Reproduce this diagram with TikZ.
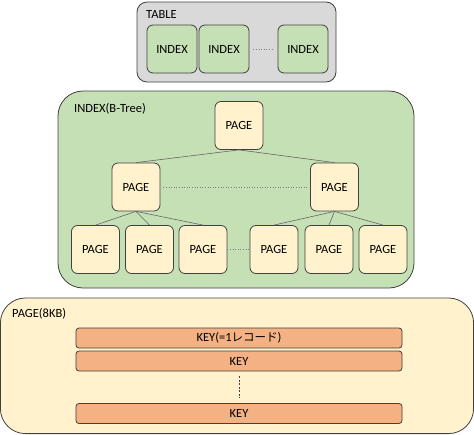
\documentclass[tikz,border=0pt]{standalone}
\usepackage{fontspec}
\setmainfont{Carlito}
\newfontfamily\jpfont{Noto Sans CJK JP}
\definecolor{tablegray}{HTML}{D9D9D9}
\definecolor{idxgreen}{HTML}{C5E0B4}
\definecolor{pageyellow}{HTML}{FFF2CC}
\definecolor{keyorange}{HTML}{F4B183}
\definecolor{boxline}{HTML}{404040}
\tikzset{
	container/.style={draw=boxline, line width=0.8pt, rounded corners=#1, inner sep=0pt},
	idxbox/.style={draw=boxline, fill=idxgreen, line width=0.8pt, rounded corners=6pt,
		minimum width=50pt, minimum height=48pt, font=\fontsize{12.5}{14}\selectfont},
	pagebox/.style={draw=boxline, fill=pageyellow, line width=0.8pt, rounded corners=6pt,
		minimum width=48pt, minimum height=48pt, font=\fontsize{12.5}{14}\selectfont},
	keybar/.style={draw=boxline, fill=keyorange, line width=0.8pt, rounded corners=3pt,
		minimum width=326pt, minimum height=20pt, font=\fontsize{12.5}{14}\selectfont},
	title/.style={anchor=west, inner sep=0pt, font=\fontsize{12.5}{14}\selectfont},
	link/.style={draw=gray!80!black, line width=0.6pt},
	gap/.style={draw=gray, line width=0.6pt, dotted}
}
\begin{document}
\begin{tikzpicture}[x=1pt, y=-1pt]
	\useasboundingbox (0,0) rectangle (474,434);
	% TABLE
	\draw[container=10pt, fill=tablegray] (137,2) rectangle (336,82);
	\node[title] (tabletitle) at (146,14) {TABLE};
	\node[idxbox] (idx1) at (172,49) {INDEX};
	\node[idxbox] (idx2) at (224,49) {INDEX};
	\node[idxbox] (idxn) at (303,49) {INDEX};
	\draw[gap, shorten <=4pt, shorten >=4pt] (idx2) -- (idxn);
	% INDEX(B-Tree)
	\draw[container=25pt, fill=idxgreen] (58,91) rectangle (414,288);
	\node[title] (treetitle) at (74,109) {INDEX(B-Tree)};
	\node[pagebox] (root) at (239,125.5) {PAGE};
	\node[pagebox] (midL) at (136,187) {PAGE};
	\node[pagebox] (midR) at (334.5,187) {PAGE};
	\node[pagebox] (leaf1) at (95.5,249.5) {PAGE};
	\node[pagebox] (leaf2) at (149.5,249.5) {PAGE};
	\node[pagebox] (leaf3) at (203,249.5) {PAGE};
	\node[pagebox] (leaf4) at (274,249.5) {PAGE};
	\node[pagebox] (leaf5) at (329,249.5) {PAGE};
	\node[pagebox] (leaf6) at (383,249.5) {PAGE};
	\draw[link] (root.south) -- (midL.north);
	\draw[link] (root.south) -- (midR.north);
	\foreach \n in {1,2,3}
		\draw[link] (midL.south) -- (leaf\n.north);
	\foreach \n in {4,5,6}
		\draw[link] (midR.south) -- (leaf\n.north);
	\draw[gap, shorten <=3pt, shorten >=3pt] (midL) -- (midR);
	\draw[gap] (leaf3) -- (leaf4);
	% PAGE(8KB)
	\draw[container=25pt, fill=pageyellow] (0.4,298) rectangle (473.6,433.6);
	\node[title] (pagetitle) at (12,314) {PAGE(8KB)};
	\node[keybar] (key1) at (239,338) {KEY(=1{\jpfont\fontsize{11.5}{13}\selectfont レコード})};
	\node[keybar] (key2) at (239,361) {KEY};
	\node[keybar] (keyn) at (239,413.5) {KEY};
	\draw[draw=boxline, line width=0.7pt, dashed, dash pattern=on 2pt off 1.5pt,
		shorten <=5pt, shorten >=5pt] (key2) -- (keyn);
\end{tikzpicture}
\end{document}
